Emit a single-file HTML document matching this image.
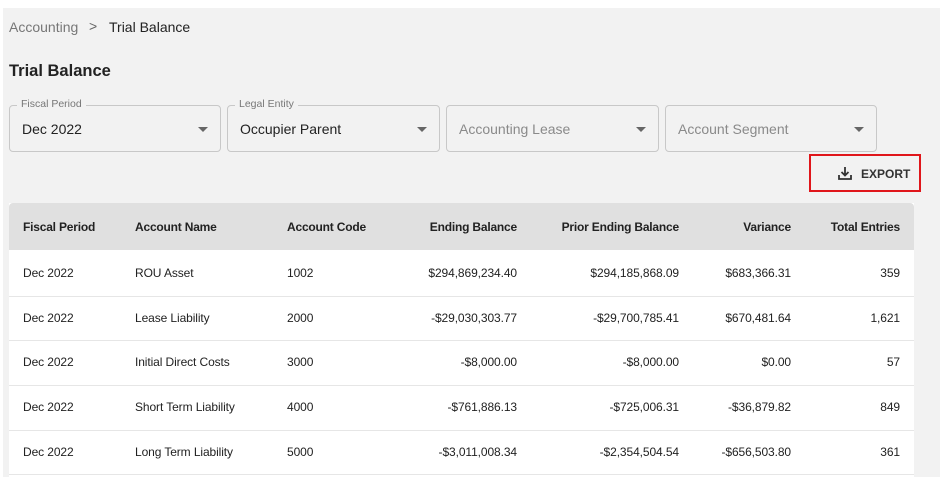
<!DOCTYPE html>
<html><head><style>
*{margin:0;padding:0;box-sizing:border-box}
body{width:946px;height:484px;background:#fff;position:relative;overflow:hidden;font-family:"Liberation Sans",Arial,sans-serif;color:#222}
#bg{position:absolute;left:3px;top:8px;width:937px;height:469px;background:#f2f2f2}
.a{position:absolute;white-space:nowrap}
.f{position:absolute;top:105px;height:47px;border:1px solid #c8c8c8;border-radius:4px}
.f .v{position:absolute;left:12px;top:15px;font-size:14px;color:#222}
.f .p{color:#8a8a8a}
.f .lb{position:absolute;left:7px;top:-8px;padding:0 4px;background:#f2f2f2;font-size:10.5px;color:#777}
.f .ar{position:absolute;right:12px;top:21px;width:0;height:0;border-left:5px solid transparent;border-right:5px solid transparent;border-top:5px solid #666}
#tbl{position:absolute;left:9px;top:203px;width:905px;height:274px;background:#fff}
#hd{position:absolute;left:0;top:0;width:905px;height:47px;background:#e0e0e0;border-radius:4px 4px 0 0}
.row{position:absolute;left:0;width:905px;height:1px;background:#e6e6e6}
.c{position:absolute;font-size:12px;white-space:nowrap;letter-spacing:-0.1px}
.h{font-weight:bold;font-size:12px;letter-spacing:-0.2px}
.r{text-align:right}
</style></head><body>
<div id="bg"></div>
<div class="a" style="left:9px;top:19px;font-size:14px;color:#777">Accounting</div>
<div class="a" style="left:89px;top:18px;font-size:14px;color:#666">&gt;</div>
<div class="a" style="left:109px;top:19px;font-size:14px;color:#222">Trial Balance</div>
<div class="a" style="left:9px;top:62px;font-size:16.5px;font-weight:bold;color:#222">Trial Balance</div>

<div class="f" style="left:9px;width:212px"><span class="lb">Fiscal Period</span><span class="v">Dec 2022</span><span class="ar"></span></div>
<div class="f" style="left:227px;width:213px"><span class="lb">Legal Entity</span><span class="v">Occupier Parent</span><span class="ar"></span></div>
<div class="f" style="left:446px;width:213px"><span class="v p">Accounting Lease</span><span class="ar"></span></div>
<div class="f" style="left:665px;width:212px"><span class="v p">Account Segment</span><span class="ar"></span></div>

<div class="a" style="left:809px;top:154px;width:112px;height:38px;border:2px solid #e0161b"></div>
<svg class="a" style="left:837px;top:165px" width="16" height="16" viewBox="0 0 16 16"><path d="M8 2v8M4.5 7l3.5 3.5L11.5 7M2 10v4h12v-4" fill="none" stroke="#333" stroke-width="1.8"/></svg>
<div class="a" style="left:861px;top:167px;font-size:12px;font-weight:bold;color:#333">EXPORT</div>

<div id="tbl">
<div id="hd"></div>
<div class="c h" style="left:14px;top:17px">Fiscal Period</div>
<div class="c h" style="left:126px;top:17px">Account Name</div>
<div class="c h" style="left:278px;top:17px">Account Code</div>
<div class="c h r" style="right:397px;top:17px">Ending Balance</div>
<div class="c h r" style="right:235px;top:17px">Prior Ending Balance</div>
<div class="c h r" style="right:123px;top:17px">Variance</div>
<div class="c h r" style="right:14px;top:17px">Total Entries</div>

<div class="row" style="top:93px"></div>
<div class="row" style="top:137px"></div>
<div class="row" style="top:182px"></div>
<div class="row" style="top:227px"></div>
<div class="row" style="top:271px"></div>

<div class="c" style="left:14px;top:63px">Dec 2022</div><div class="c" style="left:126px;top:63px">ROU Asset</div><div class="c" style="left:278px;top:63px">1002</div>
<div class="c r" style="right:397px;top:63px">$294,869,234.40</div><div class="c r" style="right:235px;top:63px">$294,185,868.09</div><div class="c r" style="right:123px;top:63px">$683,366.31</div><div class="c r" style="right:14px;top:63px">359</div>

<div class="c" style="left:14px;top:108px">Dec 2022</div><div class="c" style="left:126px;top:108px">Lease Liability</div><div class="c" style="left:278px;top:108px">2000</div>
<div class="c r" style="right:397px;top:108px">-$29,030,303.77</div><div class="c r" style="right:235px;top:108px">-$29,700,785.41</div><div class="c r" style="right:123px;top:108px">$670,481.64</div><div class="c r" style="right:14px;top:108px">1,621</div>

<div class="c" style="left:14px;top:152px">Dec 2022</div><div class="c" style="left:126px;top:152px">Initial Direct Costs</div><div class="c" style="left:278px;top:152px">3000</div>
<div class="c r" style="right:397px;top:152px">-$8,000.00</div><div class="c r" style="right:235px;top:152px">-$8,000.00</div><div class="c r" style="right:123px;top:152px">$0.00</div><div class="c r" style="right:14px;top:152px">57</div>

<div class="c" style="left:14px;top:197px">Dec 2022</div><div class="c" style="left:126px;top:197px">Short Term Liability</div><div class="c" style="left:278px;top:197px">4000</div>
<div class="c r" style="right:397px;top:197px">-$761,886.13</div><div class="c r" style="right:235px;top:197px">-$725,006.31</div><div class="c r" style="right:123px;top:197px">-$36,879.82</div><div class="c r" style="right:14px;top:197px">849</div>

<div class="c" style="left:14px;top:242px">Dec 2022</div><div class="c" style="left:126px;top:242px">Long Term Liability</div><div class="c" style="left:278px;top:242px">5000</div>
<div class="c r" style="right:397px;top:242px">-$3,011,008.34</div><div class="c r" style="right:235px;top:242px">-$2,354,504.54</div><div class="c r" style="right:123px;top:242px">-$656,503.80</div><div class="c r" style="right:14px;top:242px">361</div>
</div>
</body></html>
